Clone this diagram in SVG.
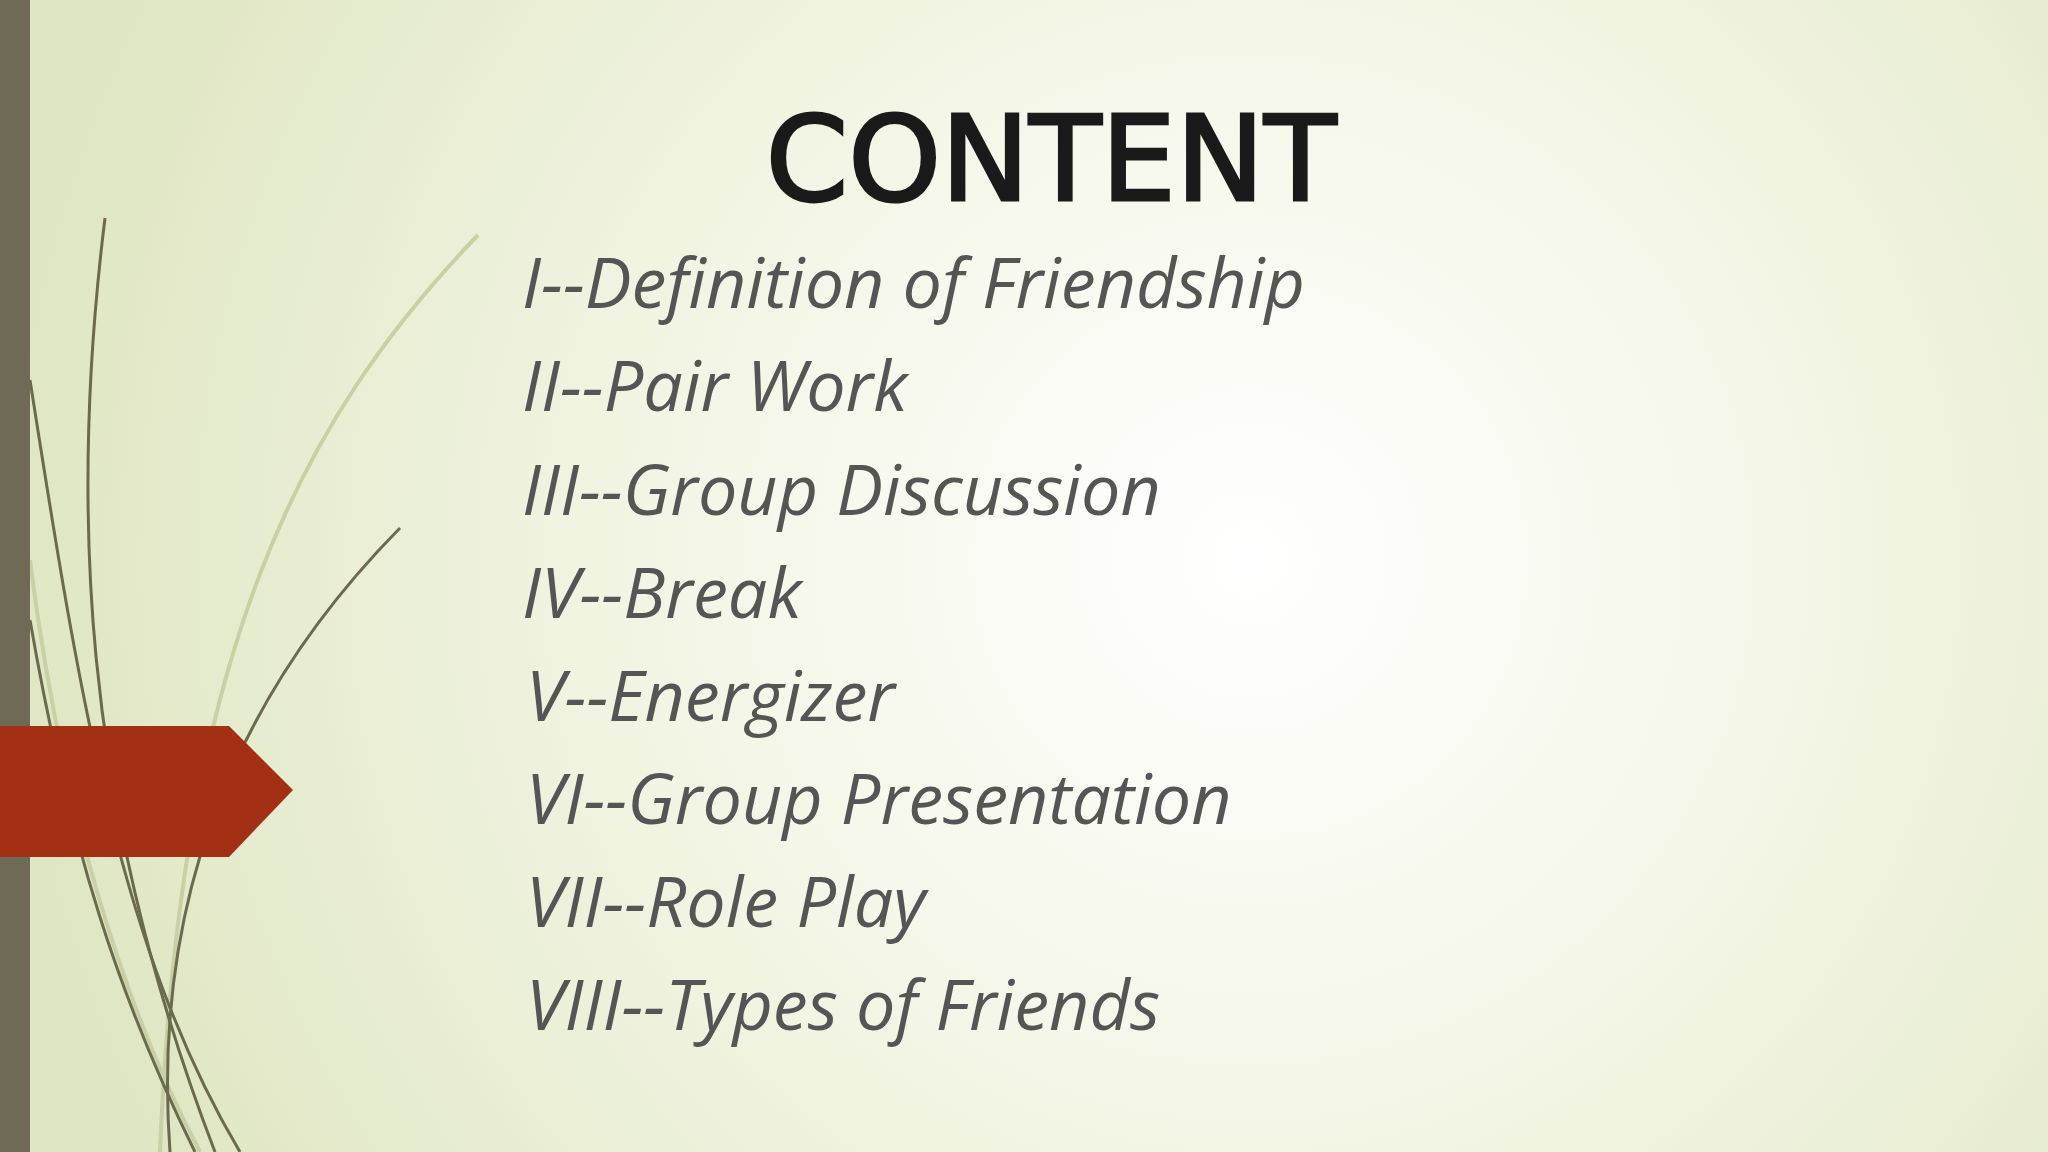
<svg xmlns="http://www.w3.org/2000/svg" width="2048" height="1152" viewBox="0 0 2048 1152">
<defs>
<radialGradient id="bg" cx="1250" cy="560" r="1250" gradientUnits="userSpaceOnUse">
<stop offset="0" stop-color="#ffffff"/>
<stop offset="0.45" stop-color="#f3f6e6"/>
<stop offset="1" stop-color="#dfe6c2"/>
</radialGradient>
<style>
.item{font-family:"Open Sans","Noto Sans",sans-serif;font-style:italic;font-size:70px;fill:#555555}
.c1{fill:none;stroke:#6b6a4e;stroke-width:3}
.c2{fill:none;stroke:#c9d0a4;stroke-width:4}
</style>
</defs>
<rect width="2048" height="1152" fill="url(#bg)"/>
<g id="curves">
<path class="c2" d="M478 235 C300 420 180 650 160 1152"/>
<path class="c2" d="M30 560 C60 800 120 1000 200 1152"/>
<path class="c1" d="M105 218 C70 500 80 800 215 1152"/>
<path class="c1" d="M30 380 C80 700 120 950 240 1152"/>
<path class="c1" d="M400 528 C250 680 150 880 170 1152"/>
<path class="c1" d="M30 620 C70 850 120 1000 195 1152"/>
</g>
<rect id="sidebar" x="0" y="0" width="30" height="1152" fill="#6e6a55"/>
<polygon id="marker" points="0,726 229,726 293,790 229,857 0,857" fill="#a33015"/>
<g id="title"><text x="1051" y="200" text-anchor="middle" font-family="DejaVu Sans,sans-serif" font-size="118" fill="#1a1a1a" stroke="#1a1a1a" stroke-width="3">CONTENT</text></g>
<g id="list">
<text class="item" x="522" y="308">I--Definition of Friendship</text>
<text class="item" x="522" y="411">II--Pair Work</text>
<text class="item" x="522" y="515">III--Group Discussion</text>
<text class="item" x="522" y="618">IV--Break</text>
<text class="item" x="526" y="721">V--Energizer</text>
<text class="item" x="526" y="824">VI--Group Presentation</text>
<text class="item" x="526" y="927">VII--Role Play</text>
<text class="item" x="526" y="1030">VIII--Types of Friends</text>
</g>
</svg>
